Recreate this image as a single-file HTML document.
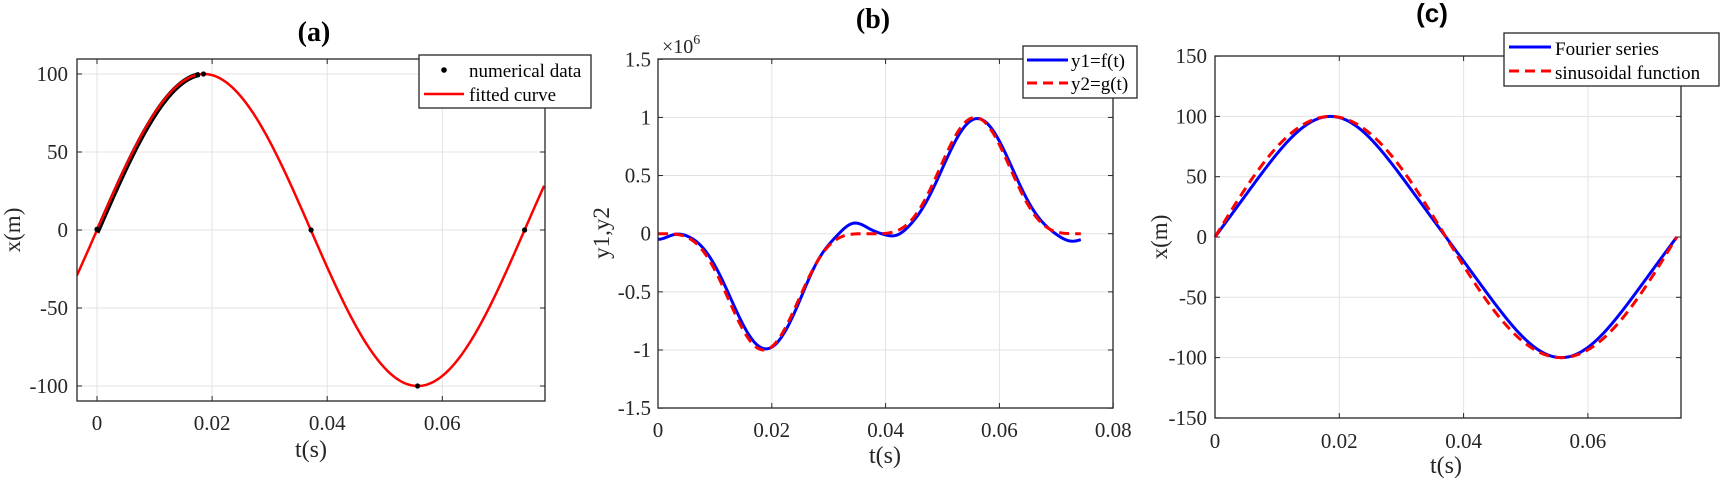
<!DOCTYPE html>
<html><head><meta charset="utf-8"><style>
html,body{margin:0;padding:0;background:#fff}
svg{display:block}
text{font-family:"Liberation Serif",serif;fill:#262626}
.t{font-size:21px}
.lg{font-size:19px;fill:#000}
</style></head><body>
<svg id="s" width="1720" height="484" viewBox="0 0 1720 484" xmlns="http://www.w3.org/2000/svg"></svg>
<script>
var S=document.getElementById('s'),h='';
function ln(x1,y1,x2,y2,st){h+='<line x1="'+x1+'" y1="'+y1+'" x2="'+x2+'" y2="'+y2+'" style="'+st+'"/>';}
function tx(x,y,s,c,a,extra){h+='<text x="'+x+'" y="'+y+'" class="'+(c||'')+'" text-anchor="'+(a||'start')+'" '+(extra||'')+'>'+s+'</text>';}
function axes(L,R,T,B,xt,yt,fx,fy,xl,yl,xlb,ylbR){
  xt.forEach(function(v){var X=fx(v);ln(X,T,X,B,'stroke:#e3e3e3;stroke-width:1');});
  yt.forEach(function(v){var Y=fy(v);ln(L,Y,R,Y,'stroke:#e3e3e3;stroke-width:1');});
  xt.forEach(function(v,i){var X=fx(v);ln(X,B,X,B-5,'stroke:#262626');ln(X,T,X,T+5,'stroke:#262626');tx(X,xlb,xl[i],'t','middle');});
  yt.forEach(function(v,i){var Y=fy(v);ln(L,Y,L+5,Y,'stroke:#262626');ln(R,Y,R-5,Y,'stroke:#262626');tx(ylbR,Y+7,yl[i],'t','end');});
}
function box(L,R,T,B){h+='<rect x="'+L+'" y="'+T+'" width="'+(R-L)+'" height="'+(B-T)+'" fill="none" stroke="#262626" stroke-width="1.3"/>';}
function path(f,t0,t1,fx,fy,st){var d='';for(var i=0;i<=600;i++){var t=t0+(t1-t0)*i/600;d+=(i?'L':'M')+fx(t).toFixed(2)+','+fy(f(t)).toFixed(2);}h+='<path d="'+d+'" fill="none" style="'+st+'"/>';}
var P=0.0743;
function G(t,c,w){return Math.exp(-Math.pow((t-c)/w,2));}
// ---- (a)
(function(){
 var L=77,R=545,T=59,B=401;
 var fx=function(t){return 97+t/0.02*115.1;},fy=function(v){return 230-v*1.56;};
 axes(L,R,T,B,[0,0.02,0.04,0.06],[100,50,0,-50,-100],fx,fy,['0','0.02','0.04','0.06'],['100','50','0','-50','-100'],430,68);
 h+='<clipPath id="ca"><rect x="'+L+'" y="'+T+'" width="'+(R-L)+'" height="'+(B-T)+'"/></clipPath><g clip-path="url(#ca)">';
 var f=function(t){return 100*Math.sin(2*Math.PI*t/P);};
 path(function(t){return f(t-0.0002);},0,0.0178,fx,fy,'stroke:#000;stroke-width:5');
 path(f,-0.0035,0.0777,fx,fy,'stroke:#ff0000;stroke-width:2.5');
 [[0.0185,100],[0.0175,99.5],[0.0372,0],[0.0557,-100],[0.0743,0],[0,0.5]].forEach(function(p){h+='<circle cx="'+fx(p[0])+'" cy="'+fy(p[1])+'" r="2.6" fill="#000"/>';});
 h+='</g>';
 box(L,R,T,B);
 h+='<rect x="419" y="55" width="172" height="53" fill="#fff" stroke="#262626" stroke-width="1.3"/>';
 h+='<circle cx="444" cy="70" r="2.8" fill="#000"/>';ln(424,94,464,94,'stroke:#ff0000;stroke-width:2.5');
 tx(469,77,'numerical data','lg');tx(469,101,'fitted curve','lg');
 tx(314,41,'(a)','','middle','style="font-size:28px;font-weight:bold;fill:#000"');
 tx(311,457,'t(s)','','middle','style="font-size:24px"');
 tx(0,0,'x(m)','','middle','style="font-size:23px" transform="translate(20,230) rotate(-90)"');
})();
// ---- (b)
(function(){
 var L=658,R=1113,T=59,B=408;
 var fx=function(t){return 658+t/0.02*113.8;},fy=function(v){return 233.7-v*116.3;};
 axes(L,R,T,B,[0,0.02,0.04,0.06,0.08],[1.5,1,0.5,0,-0.5,-1,-1.5],fx,fy,['0','0.02','0.04','0.06','0.08'],['1.5','1','0.5','0','-0.5','-1','-1.5'],437,651);
 var g=function(t){var s=Math.sin(2*Math.PI*t/P);return -Math.pow(s,3)*Math.abs(s);};
 var y1=function(t){return 0.99*g(t-0.0004)+0.095*G(t,0.0345,0.003)-0.03*G(t,0.0418,0.0022)-0.05*G(t,0,0.003)+0.015*G(t,0.003,0.002)-0.065*G(t,0.0728,0.003)+0.03*G(t,0.028,0.003);};
 path(y1,0,0.0743,fx,fy,'stroke:#0000ff;stroke-width:3');
 path(g,0,0.0743,fx,fy,'stroke:#ff0000;stroke-width:3;stroke-dasharray:10,6');
 box(L,R,T,B);
 h+='<rect x="1023" y="46" width="114" height="52" fill="#fff" stroke="#262626" stroke-width="1.3"/>';
 ln(1027,60,1068,60,'stroke:#0000ff;stroke-width:3');ln(1027,83,1068,83,'stroke:#ff0000;stroke-width:3;stroke-dasharray:10,6');
 tx(1071,67,'y1=f(t)','lg');tx(1071,90,'y2=g(t)','lg');
 tx(662,53,'×10<tspan dy="-9" font-size="14">6</tspan>','','start','style="font-size:20px"');
 tx(873,28,'(b)','','middle','style="font-size:28px;font-weight:bold;fill:#000"');
 tx(885,463,'t(s)','','middle','style="font-size:24px"');
 tx(0,0,'y1,y2','','middle','style="font-size:23px" transform="translate(609,233) rotate(-90)"');
})();
// ---- (c)
(function(){
 var L=1215,R=1681,T=56,B=418;
 var fx=function(t){return 1215+t/0.02*124.3;},fy=function(v){return 237-v*1.206;};
 axes(L,R,T,B,[0,0.02,0.04,0.06],[150,100,50,0,-50,-100,-150],fx,fy,['0','0.02','0.04','0.06'],['150','100','50','0','-50','-100','-150'],448,1207);
 var a=0.045;
 var fb=function(t){var th=2*Math.PI*t/P;return 100*(Math.sin(th)-a*Math.sin(3*th))/(1+a);};
 var fr=function(t){return 100*Math.sin(2*Math.PI*t/P);};
 path(fb,0,P,fx,fy,'stroke:#0000ff;stroke-width:3');
 path(fr,0,P,fx,fy,'stroke:#ff0000;stroke-width:3;stroke-dasharray:10,6');
 box(L,R,T,B);
 h+='<rect x="1504" y="33" width="215" height="53" fill="#fff" stroke="#262626" stroke-width="1.3"/>';
 ln(1509,47,1551,47,'stroke:#0000ff;stroke-width:3');ln(1509,71,1551,71,'stroke:#ff0000;stroke-width:3;stroke-dasharray:10,6');
 tx(1555,55,'Fourier series','lg');tx(1555,79,'sinusoidal function','lg');
 h+='<text x="1432" y="22" text-anchor="middle" style="font-family:\'Liberation Sans\',sans-serif;font-size:26px;font-weight:bold;fill:#000">(c)</text>';
 tx(1446,473,'t(s)','','middle','style="font-size:24px"');
 tx(0,0,'x(m)','','middle','style="font-size:23px" transform="translate(1167,237) rotate(-90)"');
})();
S.innerHTML=h;
</script>
</body></html>
